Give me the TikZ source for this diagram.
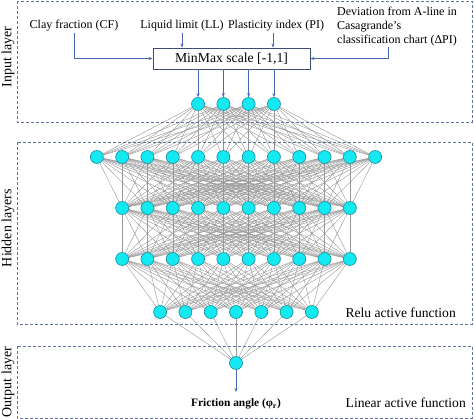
\documentclass[tikz,border=0pt]{standalone}
\usepackage{fontspec}
\setmainfont{Liberation Serif}
\usetikzlibrary{arrows.meta,backgrounds}
\definecolor{nfill}{RGB}{20,232,240}
\definecolor{ndraw}{RGB}{20,140,160}
\definecolor{boxc}{RGB}{95,115,155}
\definecolor{arrc}{RGB}{70,105,175}
\definecolor{mmc}{RGB}{60,80,115}
\definecolor{linkc}{RGB}{150,150,150}
\begin{document}
\begin{tikzpicture}[x=1pt,y=-1pt,
  neuron/.style={circle,fill=nfill,draw=ndraw,line width=0.6pt,minimum size=13pt,inner sep=0pt},
  dbox/.style={draw=boxc,line width=0.9pt,dash pattern=on 3pt off 2pt},
  arr/.style={draw=arrc,line width=0.6pt,-{Stealth[length=4pt,width=3pt]}},
  link/.style={draw=linkc,line width=0.4pt},
  lbl/.style={font=\fontsize{12}{14}\selectfont,inner sep=1pt},
  big/.style={font=\fontsize{13.6}{15}\selectfont,inner sep=1pt},
  side/.style={font=\fontsize{14}{16}\selectfont,rotate=90,inner sep=1pt}]
\useasboundingbox (0,0) rectangle (474,419);
% layer frames
\draw[dbox] (17,1) rectangle (472,122);
\draw[dbox] (17,142) rectangle (472,324);
\draw[dbox] (17,346) rectangle (472,418);
\node[side] (tin) at (8,57) {Input layer};
\node[side] (thid) at (8,228) {Hidden layers};
\node[side] (tout) at (8,382) {Output layer};
% inputs
\node[lbl] (cf) at (74,26) {Clay fraction (CF)};
\node[lbl] (ll) at (182,26) {Liquid limit (LL)};
\node[lbl] (pi) at (276,26) {Plasticity index (PI)};
\node[lbl,align=left,anchor=west] (dev) at (336,27) {Deviation from A-line in\\Casagrande's\\classification chart (ΔPI)};
\coordinate (devb) at (388,47);
\node[draw=mmc,line width=0.8pt,minimum width=157pt,minimum height=21pt,inner sep=0pt,font=\fontsize{13.7}{15}\selectfont] (mm) at (231.5,58.5) {MinMax scale [-1,1]};
\draw[arr] (cf.south) |- (mm.west);
\draw[arr] (ll.south) -- (ll.south |- mm.north);
\draw[arr] (pi.south -| 273,0) -- (273,0 |- mm.north);
\draw[arr] (devb) |- (mm.east);
% neurons
\foreach \i in {1,...,4} \node[neuron] (a\i) at ({236+(\i-2.5)*25.3},104) {};
\foreach \i in {1,...,12} \node[neuron] (b\i) at ({236+(\i-6.5)*25.3},157) {};
\foreach \i in {1,...,10} \node[neuron] (c\i) at ({236+(\i-5.5)*25.3},208) {};
\foreach \i in {1,...,10} \node[neuron] (d\i) at ({236+(\i-5.5)*25.3},259) {};
\foreach \i in {1,...,7} \node[neuron] (e\i) at ({236+(\i-4)*25.3},312) {};
\node[neuron] (o) at (236,363) {};
\foreach \i in {1,...,4} \draw[arr] (mm.south -| a\i) -- (a\i.north);
\begin{scope}[on background layer]
\foreach \i in {1,...,4} \foreach \j in {1,...,12} \draw[link] (a\i) -- (b\j);
\foreach \i in {1,...,12} \foreach \j in {1,...,10} \draw[link] (b\i) -- (c\j);
\foreach \i in {1,...,10} \foreach \j in {1,...,10} \draw[link] (c\i) -- (d\j);
\foreach \i in {1,...,10} \foreach \j in {1,...,7} \draw[link] (d\i) -- (e\j);
\foreach \i in {1,...,7} \draw[link] (e\i) -- (o);
\end{scope}
% output
\node[font=\bfseries\fontsize{11.4}{13}\selectfont,inner sep=1pt] (fa) at (236,404) {Friction angle (φ\textsubscript{r})};
\draw[arr] (o.south) -- (236,392);
\node[big,anchor=east] (relu) at (457,313) {Relu active function};
\node[big,anchor=east] (lin) at (467,403) {Linear active function};
\end{tikzpicture}
\end{document}
